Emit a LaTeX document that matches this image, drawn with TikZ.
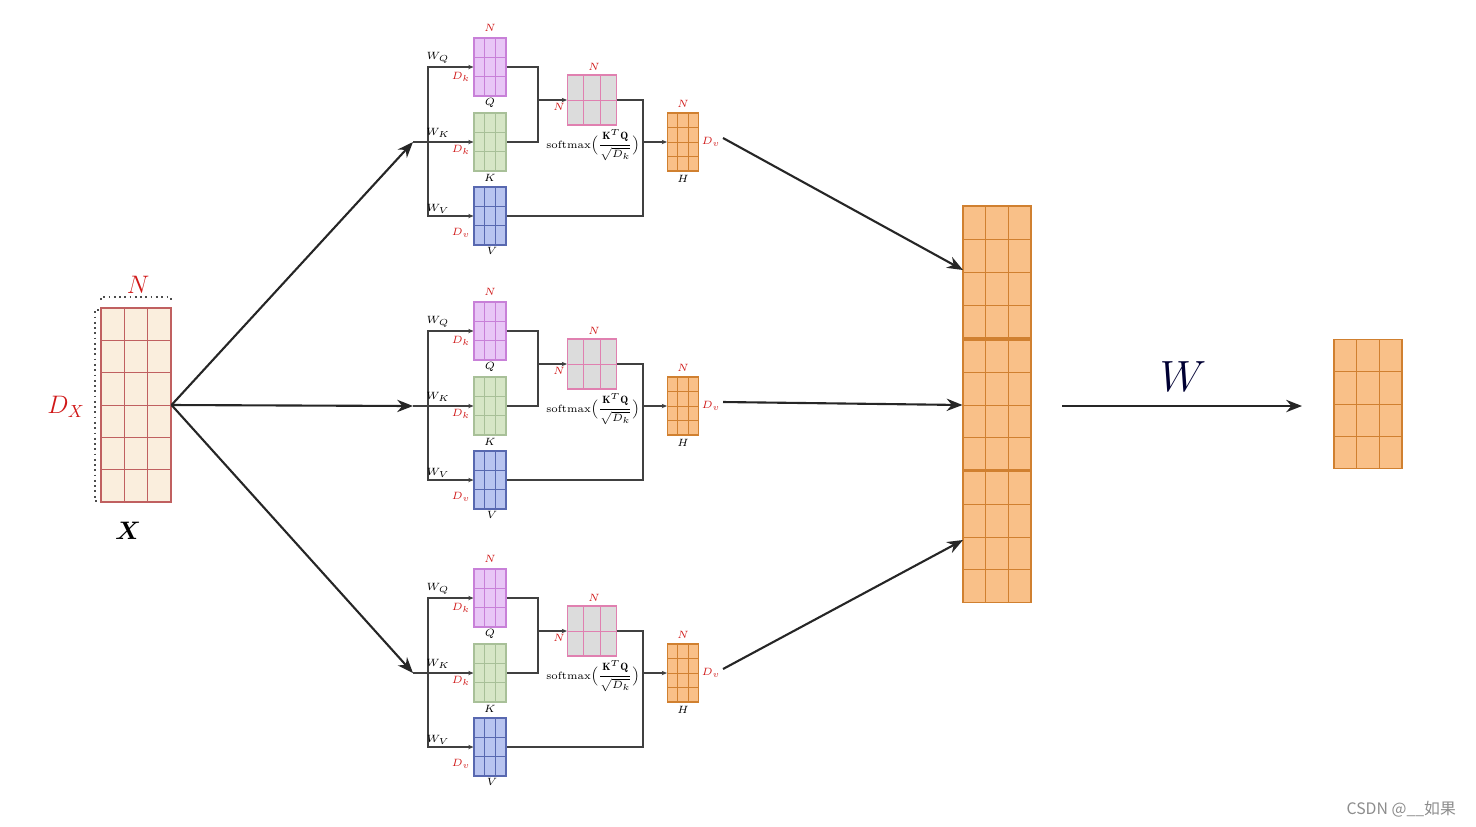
\documentclass[tikz,border=0pt]{standalone}
\usepackage{amsmath,bm}
\usepackage{fontspec}
\newfontfamily\cjk{Noto Sans CJK SC}
\usetikzlibrary{calc,arrows.meta}
\definecolor{qf}{HTML}{E8C6F6}\definecolor{ql}{HTML}{C880D8}
\definecolor{kf}{HTML}{D6E6C6}\definecolor{kl}{HTML}{A8C098}
\definecolor{vf}{HTML}{B8C4F0}\definecolor{vl}{HTML}{5868B0}
\definecolor{gf}{HTML}{DCDCDC}\definecolor{gl}{HTML}{E080B0}
\definecolor{of}{HTML}{F9C088}\definecolor{ol}{HTML}{D08030}
\definecolor{xf}{HTML}{FAEEDD}\definecolor{xl}{HTML}{C06060}
\definecolor{rd}{HTML}{D01818}
\tikzset{
 mat/.style n args={6}{rectangle, draw=#6, fill=#5, line width=0.6pt, inner sep=0pt,
  minimum width=#1*0.02cm, minimum height=#2*0.02cm,
  path picture={
   \foreach \i in {1,...,#3}{\pgfmathsetmacro\f{\i/#3}
    \draw[#6,line width=0.5pt] ($(path picture bounding box.south west)!\f!(path picture bounding box.south east)$) -- ($(path picture bounding box.north west)!\f!(path picture bounding box.north east)$);}
   \foreach \i in {1,...,#4}{\pgfmathsetmacro\f{\i/#4}
    \draw[#6,line width=0.5pt] ($(path picture bounding box.south west)!\f!(path picture bounding box.north west)$) -- ($(path picture bounding box.south east)!\f!(path picture bounding box.north east)$);}
  }},
 sm/.style={font=\fontsize{6}{6}\selectfont\itshape\bfseries},
 smr/.style={sm,text=rd},
 thin/.style={draw=black!75, line width=0.7pt},
 big/.style={-{Stealth[length=9pt,width=7pt]}, line width=1.2pt, draw=black!85},
 tip/.style={-{Stealth[length=3pt,width=2.5pt]}}
}
\newcommand\head[2]{%
 \node[mat={32}{58}{3}{3}{qf}{ql}] (#1Q) at (490,67+#2) {};
 \node[mat={32}{58}{3}{3}{kf}{kl}] (#1K) at (490,142+#2) {};
 \node[mat={32}{58}{3}{3}{vf}{vl}] (#1V) at (490,216+#2) {};
 \node[mat={49}{50}{3}{2}{gf}{gl}] (#1G) at (592,100+#2) {};
 \node[mat={31}{58}{3}{4}{of}{ol}] (#1H) at (683,142+#2) {};
 \coordinate (#1in) at (413,142+#2);
 \coordinate (#1b) at (428,142+#2);
 \coordinate (#1j) at (538,100+#2);
 \coordinate (#1k) at (643,142+#2);
 \coordinate (#1ho) at (723,138+#2);
 \draw[thin] (#1in) -- (#1b);
 \draw[thin,tip] (#1b) |- (#1Q.west);
 \draw[thin,tip] (#1b) -- (#1K.west);
 \draw[thin,tip] (#1b) |- (#1V.west);
 \draw[thin] (#1Q.east) -| (#1j) |- (#1K.east);
 \draw[thin,tip] (#1j) -- (#1G.west);
 \draw[thin] (#1G.east) -| (#1k) |- (#1V.east);
 \draw[thin,tip] (#1k) -- (#1H.west);
 \node[sm] (#1wq) at (438,58+#2) {$W_Q$};
 \node[sm] (#1wk) at (438,133+#2) {$W_K$};
 \node[sm] (#1wv) at (438,209+#2) {$W_V$};
 \node[smr] (#1dq) at (461,77+#2) {$D_k$};
 \node[smr] (#1dk) at (461,150+#2) {$D_k$};
 \node[smr] (#1dv) at (461,233+#2) {$D_v$};
 \node[smr] (#1nq) at (490,28+#2) {$N$};
 \node[sm] (#1lq) at (490,103+#2) {$Q$};
 \node[sm] (#1lk) at (490,178+#2) {$K$};
 \node[sm] (#1lv) at (492,251+#2) {$V$};
 \node[smr] (#1ng) at (594,67+#2) {$N$};
 \node[smr] (#1ng2) at (559,107+#2) {$N$};
 \node[font=\fontsize{6}{7}\selectfont,inner sep=0pt] (#1sm) at (593,145+#2) {softmax$\Bigl(\dfrac{\mathbf{K}^{T}\mathbf{Q}}{\sqrt{D_k}}\Bigr)$};
 \node[smr] (#1nh) at (683,104+#2) {$N$};
 \node[smr] (#1dh) at (711,142+#2) {$D_v$};
 \node[sm] (#1lh) at (683,179+#2) {$H$};
}
\begin{document}
\begin{tikzpicture}[x=0.02cm,y=-0.02cm]
\useasboundingbox (0,0) rectangle (1476,826);
\node[mat={70}{194}{3}{6}{xf}{xl}] (X) at (136,405) {};
\draw[dotted,line width=1pt,black!70] (101,300)--(101,297)--(171,297)--(171,300);
\draw[dotted,line width=1pt,black!70] (99,310)--(95,310)--(95,501)--(99,501);
\node[text=rd,font=\Large] (XN) at (138,285) {$N$};
\node[text=rd,font=\Large] (XD) at (66,407) {$D_X$};
\node[font=\Large] (XL) at (128,531) {$\bm{X}$};
\head{a}{0}
\head{b}{264}
\head{c}{531}
\node[mat={68}{132}{3}{4}{of}{ol}] (C1) at (997,272) {};
\node[mat={68}{130}{3}{4}{of}{ol}] (C2) at (997,405) {};
\node[mat={68}{131}{3}{4}{of}{ol}] (C3) at (997,537) {};
\node[mat={68}{129}{3}{4}{of}{ol}] (O) at (1368,404) {};
\draw[big] (X.east) -- (ain);
\draw[big] (X.east) -- (bin);
\draw[big] (X.east) -- (cin);
\draw[big] (aho) -- (963,270);
\draw[big] (bho) -- (C2.west);
\draw[big] (cho) -- (963,540);
\coordinate (wa) at (1062,406);
\coordinate (wb) at (1302,406);
\draw[big] (wa) -- (wb);
\node[font=\fontsize{26}{26}\selectfont,text=black!80!blue] (WL) at (1183,377) {$W$};
\node[font=\cjk\fontsize{9}{9}\selectfont,text=black!45,anchor=east] (wm) at (1462,809) {CSDN @\_\_如果};
\end{tikzpicture}
\end{document}
